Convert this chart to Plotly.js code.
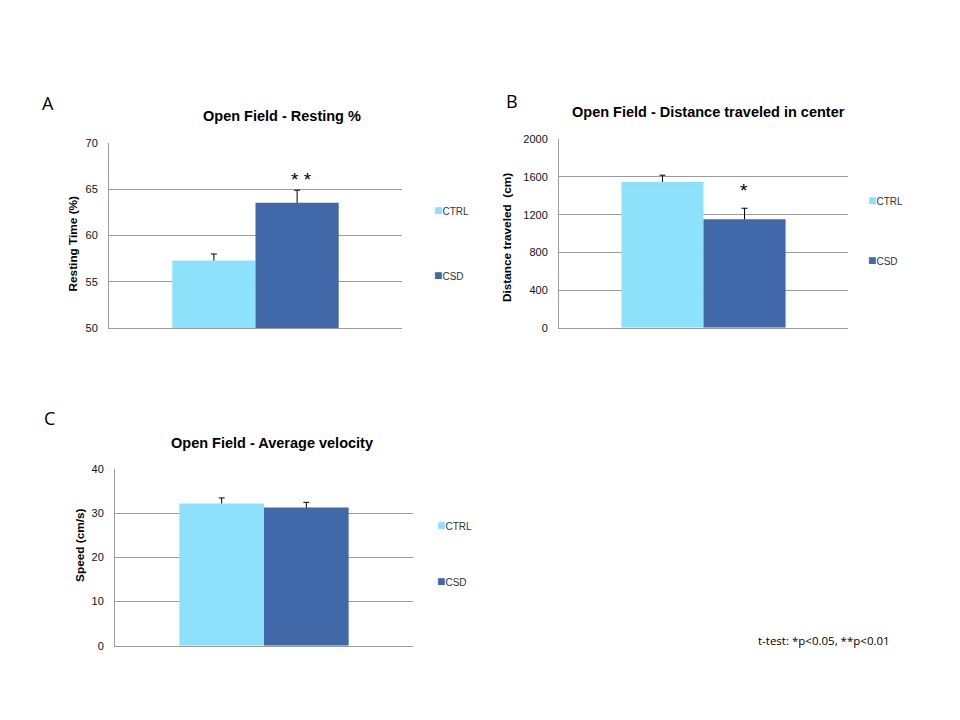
<!DOCTYPE html>
<html>
<head>
<meta charset="utf-8">
<script src="https://cdn.plot.ly/plotly-3.0.1.min.js"></script>
<style>
  html, body { margin: 0; padding: 0; background: #fff; }
  #chart { width: 960px; height: 720px; }
</style>
</head>
<body>
<div id="chart"></div>
<script>
// Open Field test: CTRL vs CSD groups, mean with upper SEM bar
const groups = ['CTRL', 'CSD'];
const groupColors = ['#8DE1FB', '#4169A9'];

const restingMean = [57.3, 63.55];
const restingErr = [0.7, 1.35];

const distanceMean = [1547, 1151];
const distanceErr = [72, 117];

const velocityMean = [32.2, 31.3];
const velocityErr = [1.25, 1.15];

const panelTitles = ['Open Field - Resting %', 'Open Field - Distance traveled in center', 'Open Field - Average velocity'];
const yTitles = ['Resting Time (%)', 'Distance traveled  (cm)', 'Speed (cm/s)'];
const panelLabels = ['A', 'B', 'C'];
const significance = ['* *', '*', ''];
const footnote = 't-test: *p<0.05, **p<0.01';

const FONT = 'Arial, "Liberation Sans", sans-serif';
const GRID = '#9C9C9C';

const panels = [
  { mean: restingMean, err: restingErr, xa: 'x', ya: 'y' },
  { mean: distanceMean, err: distanceErr, xa: 'x2', ya: 'y2' },
  { mean: velocityMean, err: velocityErr, xa: 'x3', ya: 'y3' }
];

const traces = [];
panels.forEach(p => {
  // error bars first (on transparent bars) so the solid bars hide their lower half
  groups.forEach((g, i) => {
    traces.push({
      type: 'bar', name: g + ' SEM',
      x: ['Open Field'], y: [p.mean[i]],
      xaxis: p.xa, yaxis: p.ya, offsetgroup: g,
      marker: { color: 'rgba(0,0,0,0)', line: { width: 0 } },
      error_y: {
        type: 'data', symmetric: true, array: [p.err[i]],
        color: '#000', thickness: 1, width: 3
      },
      showlegend: false, hoverinfo: 'skip'
    });
  });
  groups.forEach((g, i) => {
    traces.push({
      type: 'bar', name: g,
      x: ['Open Field'], y: [p.mean[i]],
      xaxis: p.xa, yaxis: p.ya, offsetgroup: g,
      marker: { color: groupColors[i], line: { width: 0 } },
      showlegend: false, hoverinfo: 'y+name'
    });
  });
});

function xAxis(domain, anchor) {
  return {
    domain: domain, anchor: anchor, type: 'category',
    showticklabels: false, showgrid: false, zeroline: false,
    showline: true, linecolor: GRID, linewidth: 1, ticks: '', fixedrange: true
  };
}
function yAxis(domain, anchor, range, dtick) {
  return {
    domain: domain, anchor: anchor, range: range, dtick: dtick,
    showgrid: true, gridcolor: GRID, gridwidth: 1, zeroline: false,
    showline: true, linecolor: GRID, linewidth: 1,
    ticks: '', ticklabelstandoff: 8,
    tickfont: { family: FONT, size: 11, color: '#111' }, fixedrange: true
  };
}

const annotations = [];

// panel titles
[[0.2938, 0.8389], [0.7375, 0.8444], [0.2833, 0.3847]].forEach((pos, k) => {
  annotations.push({
    xref: 'paper', yref: 'paper', x: pos[0], y: pos[1],
    text: panelTitles[k], showarrow: false, xanchor: 'center', yanchor: 'middle',
    font: { family: FONT, size: 14.5, weight: 'bold', color: '#000' }
  });
});

// y-axis titles
[[0.0760, 0.6618], [0.5281, 0.6708], [0.0833, 0.2431]].forEach((pos, k) => {
  annotations.push({
    xref: 'paper', yref: 'paper', x: pos[0], y: pos[1],
    text: yTitles[k], showarrow: false, textangle: -90,
    xanchor: 'center', yanchor: 'middle',
    font: { family: FONT, size: 11.8, weight: 'bold', color: '#000' }
  });
});

// panel letters
[[48 / 960, 1 - 103 / 720], [512 / 960, 1 - 101 / 720], [49 / 960, 1 - 418 / 720]].forEach((pos, k) => {
  annotations.push({
    xref: 'paper', yref: 'paper', x: pos[0], y: pos[1],
    text: panelLabels[k], showarrow: false, xanchor: 'center', yanchor: 'middle',
    font: { family: '"Open Sans", sans-serif', size: 18, color: '#000' }
  });
});

// legends (one per panel)
const legendPos = [
  [[432, 210], [432, 275]],
  [[866, 200], [866, 260]],
  [[435, 525], [435, 581]]
];
legendPos.forEach(pair => {
  pair.forEach((pos, i) => {
    annotations.push({
      xref: 'paper', yref: 'paper', x: pos[0] / 960, y: 1 - pos[1] / 720,
      text: '<span style="color:' + groupColors[i] + ';font-size:14px">■</span>' + groups[i],
      showarrow: false, xanchor: 'left', yanchor: 'middle',
      font: { family: FONT, size: 10, color: '#333' }
    });
  });
});

// significance markers above the CSD bar
[[301 / 960, 'y', restingMean[1] + restingErr[1], -2], [744 / 960, 'y2', distanceMean[1] + distanceErr[1], 5]].forEach((s, k) => {
  annotations.push({
    xref: 'paper', yref: s[1], x: s[0], y: s[2],
    text: significance[k], showarrow: false, xanchor: 'center', yanchor: 'bottom',
    yshift: s[3],
    font: { family: FONT, size: 19, color: '#000' }
  });
});

// test note
annotations.push({
  xref: 'paper', yref: 'paper', x: 756 / 960, y: 1 - 640 / 720,
  text: footnote, showarrow: false, xanchor: 'left', yanchor: 'middle',
  font: { family: '"Open Sans", sans-serif', size: 11.5, color: '#000' }
});

const layout = {
  width: 960, height: 720,
  margin: { l: 0, r: 0, t: 0, b: 0 },
  paper_bgcolor: '#fff', plot_bgcolor: '#fff',
  barmode: 'group', bargap: 0.432, bargroupgap: 0,
  showlegend: false,
  xaxis: xAxis([109 / 960, 402 / 960], 'y'),
  yaxis: yAxis([0.5444, 0.8014], 'x', [50, 70], 5),
  xaxis2: xAxis([559 / 960, 848 / 960], 'y2'),
  yaxis2: yAxis([0.5449, 0.8065], 'x2', [0, 2000], 400),
  xaxis3: xAxis([115 / 960, 413 / 960], 'y3'),
  yaxis3: yAxis([0.1032, 0.3486], 'x3', [0, 40], 10),
  annotations: annotations
};

Plotly.newPlot('chart', traces, layout, { displayModeBar: false, staticPlot: true });
</script>
</body>
</html>
